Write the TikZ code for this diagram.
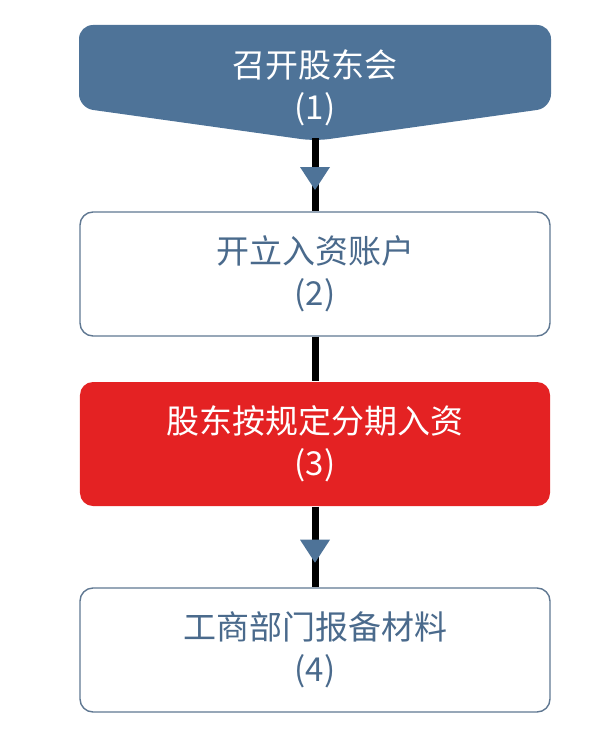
\documentclass[tikz,border=0pt]{standalone}
\usepackage{fontspec}
\setmainfont{Noto Sans CJK SC}
\usetikzlibrary{decorations.markings}
\definecolor{hdblue}{RGB}{78,115,152}
\definecolor{txtblue}{RGB}{74,106,140}
\definecolor{bordblue}{RGB}{96,120,146}
\definecolor{boxred}{RGB}{228,34,35}
\tikzset{
  lbl/.style={font=\fontsize{33bp}{42bp}\selectfont, align=center},
  stepbox/.style={rectangle, rounded corners=13bp, minimum width=470bp, minimum height=124bp, inner sep=0pt, line width=1.4bp},
  whitebox/.style={stepbox, draw=bordblue, fill=white, text=txtblue},
  redbox/.style={stepbox, fill=boxred, text=white},
  conn/.style={line width=7bp, black},
  arrowconn/.style={conn, postaction={decorate}, decoration={markings, mark=at position #1 with {\fill[hdblue] (-23bp,15bp) -- (-23bp,-15bp) -- (0,0) -- cycle;}}}
}
\begin{document}
\begin{tikzpicture}[x=1bp,y=-1bp]
\useasboundingbox (0,0) rectangle (596,738);
% top pentagon
\fill[hdblue, rounded corners=14bp] (79,25) -- (551,25) -- (551,108) -- (315,141) -- (79,108) -- cycle;
\node[lbl, text=white] (n1) at (315,88) {召开股东会\\(1)};
\coordinate (n1tip) at (315,138);
\node[whitebox, lbl] (n2) at (315,274) {开立入资账户\\(2)};
\node[redbox, lbl] (n3) at (315,444) {股东按规定分期入资\\(3)};
\node[whitebox, lbl] (n4) at (315,650) {工商部门报备材料\\(4)};
\draw[arrowconn=52bp] (n1tip) -- (n2.north);
\draw[conn] (n2.south) -- (n3.north);
\draw[arrowconn=56bp] (n3.south) -- (n4.north);
\end{tikzpicture}
\end{document}
